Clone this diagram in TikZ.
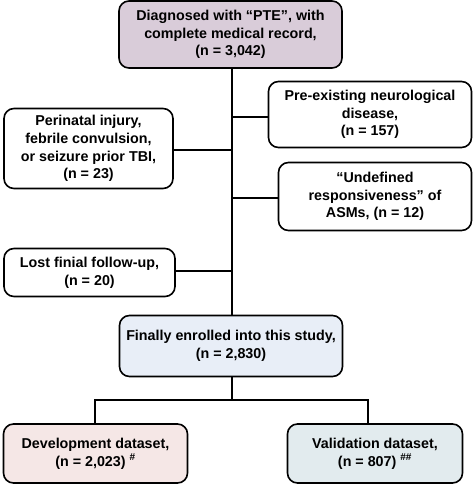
\documentclass[tikz,border=0pt]{standalone}
\usepackage{fontspec}
\setmainfont{Liberation Sans}
\usepackage{xcolor}
\usetikzlibrary{positioning}
\definecolor{topfill}{RGB}{217,204,217}
\definecolor{enrolfill}{RGB}{232,238,247}
\definecolor{devfill}{RGB}{245,231,230}
\definecolor{valfill}{RGB}{226,235,238}
\tikzset{
    flowbox/.style={
        draw,
        rounded corners=10pt,
        line width=1.6pt,
        fill=white,
        align=center,
        inner sep=2pt,
        font=\fontsize{14.3}{17.7}\selectfont\bfseries
    },
    link/.style={
        draw,
        line width=1.3pt
    }
}

\begin{document}
\begin{tikzpicture}[x=1pt, y=-1pt]
    \useasboundingbox (0,0) rectangle (474,485);
    % Boxes
    \node[flowbox, fill=topfill, minimum width=223pt, minimum height=67pt] (top) at (230.5,34.5)
        {Diagnosed with “PTE”, with\\complete medical record,\\(n = 3,042)};
    \node[flowbox, minimum width=203pt, minimum height=66pt] (pre) at (370,114.5)
        {Pre-existing neurological\\disease,\\(n = 157)};
    \node[flowbox, minimum width=169pt, minimum height=80pt] (peri) at (88.5,148.5)
        {Perinatal injury,\\febrile convulsion,\\or seizure prior TBI,\\(n = 23)};
    \node[flowbox, minimum width=193pt, minimum height=68pt] (undef) at (375,196.5)
        {“Undefined\\responsiveness” of\\ASMs, (n = 12)};
    \node[flowbox, minimum width=171pt, minimum height=48pt] (lost) at (89.5,272.5)
        {Lost finial follow-up,\\(n = 20)};
    \node[flowbox, fill=enrolfill, minimum width=223pt, minimum height=61pt] (enrol) at (231,346)
        {Finally enrolled into this study,\\(n = 2,830)};
    \node[flowbox, fill=devfill, minimum width=184pt, minimum height=59pt] (dev) at (95.5,453.5)
        {Development dataset,\\(n = 2,023) \textsuperscript{\#}};
    \node[flowbox, fill=valfill, minimum width=175pt, minimum height=59pt] (val) at (375,453.5)
        {Validation dataset,\\(n = 807) \textsuperscript{\#\#}};

    % Junctions
    \coordinate (jpre) at (232,117);
    \coordinate (jperi) at (232,150);
    \coordinate (jundef) at (232,198);
    \coordinate (jlost) at (232,271);
    \coordinate (jsplit) at (232,400);
    \coordinate (jdev) at (95,400);
    \coordinate (jval) at (368,400);

    % Edges
    \draw[link] (top.south -| jpre) -- (enrol.north -| jpre);
    \draw[link] (jpre) -- (jpre -| pre.west);
    \draw[link] (jperi) -- (jperi -| peri.east);
    \draw[link] (jundef) -- (jundef -| undef.west);
    \draw[link] (jlost) -- (jlost -| lost.east);
    \draw[link] (enrol.south -| jsplit) -- (jsplit);
    \draw[link] (jdev |- dev.north) -- (jdev) -- (jval) -- (jval |- val.north);

\end{tikzpicture}
\end{document}
